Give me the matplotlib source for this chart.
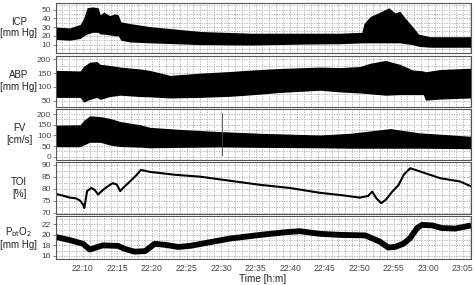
import matplotlib
matplotlib.use('Agg')
import matplotlib.pyplot as plt
import numpy as np

plt.rcParams['font.family'] = ['Liberation Sans', 'DejaVu Sans']

# time in minutes after 22:00
t_icp = [6.1, 8.1, 9.6, 10.1, 10.6, 11.4, 12.2, 12.5, 13.0, 13.9, 14.6, 15.1, 15.5, 16.8,
         19.7, 27.0, 34.2, 41.4, 47.2, 50.4, 50.7, 51.6, 53.0, 54.3, 55.2, 55.9, 56.7,
         57.7, 58.6, 60.3, 66.2]
icp_hi = [30, 29, 33, 40, 52, 53, 52, 44, 47, 43, 45, 44, 36, 34,
          30.5, 25, 23, 23, 23, 24, 34, 42, 47, 52, 46, 48, 40,
          31, 22, 19, 19]
icp_lo = [16, 15, 17, 20, 22, 24, 24, 22, 22, 21, 20, 20, 15, 13,
          12, 10, 9.5, 10.5, 11, 12, 12, 12, 12, 12, 12, 12, 11,
          10, 8, 7, 7]

t_abp = [6.1, 9.6, 10.1, 11.0, 12.0, 12.5, 13.9, 15.4, 18.3, 19.7, 22.6, 27.0, 31.3,
         34.2, 38.6, 44.3, 47.2, 50.1, 51.6, 53.8, 55.9, 57.7, 59.3, 59.6, 61.7, 66.2]
abp_hi = [160, 158, 175, 190, 192, 182, 178, 172, 165, 160, 142, 150, 156,
          161, 167, 172, 170, 174, 186, 196, 182, 162, 158, 155, 163, 168]
abp_lo = [62, 62, 45, 55, 62, 55, 65, 70, 65, 64, 60, 62, 66,
          71, 80, 88, 82, 78, 75, 70, 72, 72, 72, 52, 56, 60]

t_fv = [6.1, 9.6, 10.1, 11.0, 12.5, 13.9, 15.4, 18.3, 19.7, 24.1, 29.9, 35.7,
        44.3, 48.7, 54.5, 58.8, 66.2]
fv_hi = [148, 150, 170, 192, 188, 180, 165, 150, 138, 128, 118, 110,
         102, 110, 132, 112, 96]
fv_lo = [47, 47, 55, 68, 68, 55, 48, 45, 42, 44, 46, 44,
         42, 40, 40, 40, 38]
fv_spike_t = 30.1
fv_spike = [8, 205]

t_toi = [6.1, 7.0, 8.1, 9.0, 9.6, 10.0, 10.2, 10.6, 11.2, 11.7, 12.2, 12.9, 13.6, 14.3,
         14.9, 15.4, 15.7, 16.8, 17.7, 18.4, 19.7, 23.3, 27.0, 31.3, 35.7, 40.0, 44.3,
         47.2, 50.1, 51.3, 51.9, 52.5, 53.2, 53.9, 54.8, 55.7, 56.5, 57.4, 58.8, 61.7,
         64.6, 66.2]
toi = [77.8, 77.2, 76.3, 76.0, 75.0, 73.5, 72.0, 79.0, 80.3, 79.5, 77.6, 79.5, 81.0, 82.3,
       81.8, 79.0, 80.0, 83.0, 85.5, 87.8, 87.0, 85.8, 85.0, 83.3, 81.6, 80.3, 78.3,
       77.4, 76.3, 77.0, 78.8, 76.0, 74.0, 75.5, 78.8, 81.5, 86.0, 88.5, 87.2, 84.4,
       83.0, 81.0]

t_pbt = [6.1, 8.1, 10.0, 11.0, 11.9, 12.9, 15.1, 16.1, 17.5, 19.0, 20.4, 21.9, 23.8,
         25.5, 28.4, 31.3, 35.7, 39.3, 41.4, 44.3, 47.2, 50.9, 53.0, 54.2, 55.2, 56.4,
         57.4, 58.4, 59.1, 60.6, 62.0, 63.9, 66.2]
pbto2 = [19.6, 19.0, 18.3, 17.2, 17.6, 18.0, 17.9, 17.3, 16.8, 16.9, 18.3, 18.1, 17.7,
         17.9, 18.6, 19.3, 20.0, 20.5, 20.7, 20.2, 20.0, 19.9, 18.7, 17.6, 17.7, 18.3,
         19.4, 21.3, 21.9, 21.8, 21.3, 21.2, 21.8]

xticks = [10, 15, 20, 25, 30, 35, 40, 45, 50, 55, 60, 65]
xticklabels = ['22:10', '22:15', '22:20', '22:25', '22:30', '22:35', '22:40',
               '22:45', '22:50', '22:55', '23:00', '23:05']

fig = plt.figure(figsize=(4.74, 2.85), dpi=100)
H = 285.0
L, W = 56 / 474, 415 / 474

def make_ax(top, bottom):
    return fig.add_axes([L, (H - bottom) / H, W, (bottom - top) / H])

ax_icp = make_ax(2.5, 52.5)
ax_abp = make_ax(55.5, 106.5)
ax_fv = make_ax(108.5, 160)
ax_toi = make_ax(162, 213.5)
ax_pbt = make_ax(216, 259)
axes = [ax_icp, ax_abp, ax_fv, ax_toi, ax_pbt]

ax_icp.fill_between(t_icp, icp_lo, icp_hi, color='black', lw=0)
ax_abp.fill_between(t_abp, abp_lo, abp_hi, color='black', lw=0)
ax_fv.fill_between(t_fv, fv_lo, fv_hi, color='black', lw=0)
ax_fv.plot([fv_spike_t, fv_spike_t], fv_spike, color='#444444', lw=0.6)
ax_toi.plot(t_toi, toi, color='black', lw=1.5)
ax_pbt.plot(t_pbt, pbto2, color='black', lw=4.2, solid_capstyle='butt')

ylims = [(1, 58), (29, 214), (-15, 226), (69.7, 91.1), (15.4, 23.6)]
yticks = [[10, 20, 30, 40, 50], [50, 100, 150, 200], [0, 50, 100, 150, 200],
          [70, 75, 80, 85, 90], [16, 18, 20, 22]]
yminor = [5, 25, 25, 2.5, 1]
labels = ['ICP\n[mm Hg]', 'ABP\n[mm Hg]', 'FV\n[cm/s]', 'TOI\n[%]',
          'P$_{\\mathrm{bt}}$O$_2$\n[mm Hg]']

for ax, yl, yt, ym, lab in zip(axes, ylims, yticks, yminor, labels):
    ax.set_xlim(6.1, 66.2)
    ax.set_yticks(yt)
    ax.set_yticks(np.arange(yt[0] - ym * 4, yt[-1] + ym * 4, ym), minor=True)
    ax.set_xticks(np.arange(7, 67, 1), minor=True)
    ax.set_xticks(xticks)
    ax.grid(True, which='both', color='#a8a8a8', ls=(0, (1.5, 1.5)), lw=0.6)
    ax.set_axisbelow(True)
    ax.tick_params(axis='y', which='major', labelsize=6.0, length=2, width=0.5,
                   pad=1.5, labelcolor='#444444', color='#555555')
    ax.tick_params(which='minor', length=0)
    ax.tick_params(axis='x', length=0)
    for s in ax.spines.values():
        s.set_color('#555555')
        s.set_linewidth(0.8)
    ax.set_ylim(*yl)
    pos = ax.get_position()
    fig.text(19 / 474, pos.y0 + pos.height / 2, lab, ha='center', va='center',
             fontsize=7.0, linespacing=1.2, color='#222222')
    if ax is not ax_pbt:
        ax.set_xticklabels([])

ax_pbt.set_xticklabels(xticklabels)
ax_pbt.tick_params(axis='x', labelsize=6.2, pad=3.5, labelcolor='#444444')
fig.text(263 / 474, 1 - 279 / H, 'Time [h:m]', ha='center', va='center',
         fontsize=7.2, color='#222222')

fig.savefig('out.png', dpi=100)
